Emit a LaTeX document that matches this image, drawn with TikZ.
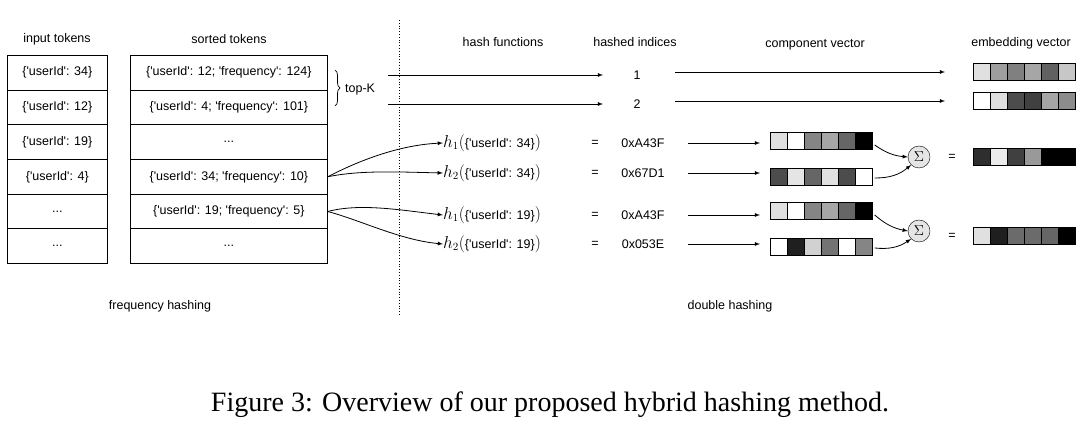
\documentclass[tikz,border=0pt]{standalone}
\usepackage{fontspec}
\setsansfont{Liberation Sans}
\newfontfamily\capfont{Liberation Serif}
\usetikzlibrary{decorations.pathreplacing}
\newcommand{\qq}{\textquotesingle}
\newcommand{\ddd}{...}
\newcommand{\uid}[1]{\{\qq userId\qq: #1\}}
\newcommand{\ufr}[2]{\{\qq userId\qq: #1; \qq frequency\qq: #2\}}
\begin{document}
\begin{tikzpicture}[x=1pt,y=-1pt,
  every node/.style={font=\sffamily\fontsize{12.5}{14}\selectfont,inner sep=0pt},
  cell/.style={draw,line width=0.7pt,minimum width=17pt,minimum height=17pt,anchor=west},
  arr/.style={-latex,line width=0.8pt},
  sig/.style={draw,circle,fill=black!10,minimum size=22pt,font=\fontsize{14}{16}\selectfont}]
\useasboundingbox (0,0) rectangle (1080,427);
\fill[white] (0,0) rectangle (1080,427);
% headers
\node (hin) at (57,39) {input tokens};
\node (hso) at (229,39) {sorted tokens};
\node (hhf) at (503,42) {hash functions};
\node (hhi) at (635,42) {hashed indices};
\node (hcv) at (815,45) {component vector};
\node (hev) at (1021,43) {embedding vector};
% input table
\foreach \i/\t in {0/\uid{34},1/\uid{12},2/\uid{19},3/\uid{4},4/\ddd,5/\ddd}{
  \node[draw,line width=0.7pt,minimum width=100pt,minimum height=34.7pt,anchor=north west] (in\i) at (7,55+34.7*\i) {\t};}
\foreach \i/\t in {0/\ufr{12}{124},1/\ufr{4}{101},2/\ddd,3/\ufr{34}{10},4/\ufr{19}{5},5/\ddd}{
  \node[draw,line width=0.7pt,minimum width=197pt,minimum height=34.7pt,anchor=north west] (so\i) at (130,55+34.7*\i) {\t};}
\draw[decorate,decoration={brace,amplitude=5pt},line width=0.7pt] (335,70) -- (335,106);
\node[anchor=west] (topk) at (345,90) {top-K};
\draw[dotted,line width=0.8pt] (399,20) -- (399,315);
% top-K rows
\coordinate (s1) at (388,75);
\coordinate (s2) at (388,104);
\node (i1) at (637,75) {1};
\node (i2) at (637,104) {2};
\draw[arr] (s1) -- (603,75);
\draw[arr] (s2) -- (603,104);
\coordinate (e1) at (675,72);\coordinate (e2) at (675,101);
\draw[arr] (e1) -- (945,72);
\draw[arr] (e2) -- (945,101);
\newcommand{\vecrow}[4]{%
  \foreach \g [count=\k from 0] in {#4}{\node[cell,fill=black!\the\numexpr100-\g\relax] (#1\k) at (#2+17*\k,#3) {};}}
\vecrow{ea}{973}{72}{88,62,50,65,38,78}
\vecrow{eb}{973}{101}{100,88,30,25,65,55}
% hash rows
\foreach \n/\y/\h/\u/\x in {a/143/1/34/0xA43F,b/173/2/34/0x67D1,c/215/1/19/0xA43F,d/244/2/19/0x053E}{
  \node (h\n) at (492,\y) {{\fontsize{16}{18}\selectfont$h_{\h}\big($}\uid{\u}{\fontsize{16}{18}\selectfont$\big)$}};
  \node (q\n) at (595,\y) {=};
  \node (x\n) at (643,\y) {\x};
  \draw[arr] (688,\y) -- (760,\y);
}
\vecrow{ca}{770}{141}{88,100,52,65,40,0}
\vecrow{cb}{770}{177}{30,90,40,88,30,100}
\vecrow{cc}{770}{211}{88,100,52,65,40,0}
\vecrow{cd}{770}{247}{100,12,82,45,100,52}
\node[sig] (S1) at (919,157) {$\Sigma$};
\node[sig] (S2) at (919,231) {$\Sigma$};
\node (eq1) at (952,157) {=};
\node (eq2) at (952,236) {=};
\vecrow{sa}{973}{157}{18,92,25,60,0,0}
\vecrow{sb}{973}{236}{88,12,42,42,40,0}
\draw[arr] (ca5.east) ++(2,4) to[bend right=15] (S1.west);
\draw[arr] (cb5.east) ++(2,1) to[bend right=20] (S1.south west);
\draw[arr] (cc5.east) ++(2,4) to[bend right=15] (S2.west);
\draw[arr] (cd5.east) ++(2,1) to[bend right=20] (S2.south west);
% curves from sorted tokens
\draw[arr] (so3.east) .. controls (360,160) and (400,145) .. (ha.west);
\draw[arr] (so3.east) .. controls (360,170) and (400,172) .. (hb.west);
\draw[arr] (so4.east) .. controls (360,203) and (400,210) .. (hc.west);
\draw[arr] (so4.east) .. controls (360,220) and (400,240) .. (hd.west);
\node (fh) at (160,306) {frequency hashing};
\node (dh) at (730,306) {double hashing};
\node (cap) at (550,405) {\capfont\fontsize{28}{32}\selectfont Figure 3: Overview of our proposed hybrid hashing method.};
\end{tikzpicture}
\end{document}
